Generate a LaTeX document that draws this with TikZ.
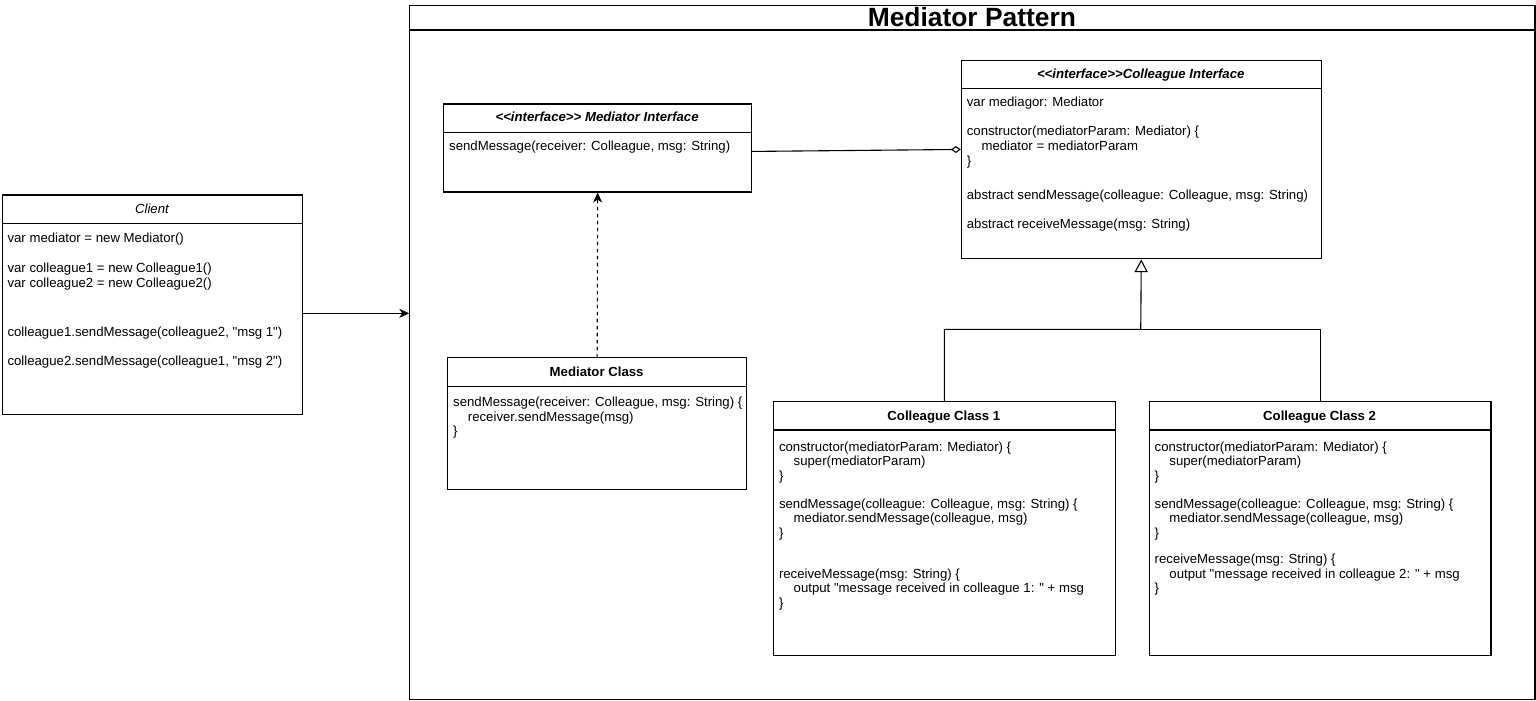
\documentclass[tikz,border=0pt]{standalone}
\usepackage{fontspec}
\newfontfamily\ufont{Liberation Sans}
\usetikzlibrary{arrows.meta}
\newcounter{tln}
\newcommand\lntxt[3]{\stepcounter{tln}\node[txt,anchor=base west] (t\arabic{tln}) at (#1,#2) {#3};}
\newcommand\hdtxt[3]{\stepcounter{tln}\node[txt,anchor=base] (t\arabic{tln}) at (#1,#2) {#3};}
\begin{document}
\begin{tikzpicture}[x=1pt,y=-1pt,
  every path/.style={line width=1.1pt,draw=black},
  box/.style={draw=black,line width=1.1pt,rectangle,inner sep=0pt,anchor=north west,fill=white},
  txt/.style={inner sep=0pt,outer sep=0pt,font=\ufont\fontsize{13.2}{14.5}\selectfont},
  tip/.style={-{Stealth[length=10pt,width=9pt,inset=3pt]}},
]
\useasboundingbox (0,0) rectangle (1536,700);
\fill[white] (0,0) rectangle (1536,700);

% outer frame
\node[box,minimum width=1126pt,minimum height=695pt] (frame) at (409,4) {};
\draw ([yshift=-25.5pt]frame.north west) -- ([yshift=-25.5pt]frame.north east);
\node[inner sep=0pt,anchor=base,font=\ufont\bfseries\fontsize{26.4}{30}\selectfont] (title) at (972,25.7) {Mediator Pattern};

% boxes
\node[box,minimum width=301pt,minimum height=220pt] (client) at (1,194) {};
\node[box,minimum width=308pt,minimum height=88pt] (mi) at (443,103) {};
\node[box,minimum width=360pt,minimum height=199pt] (ci) at (961,59) {};
\node[box,minimum width=299pt,minimum height=132pt] (mc) at (447,357) {};
\node[box,minimum width=342pt,minimum height=254pt] (cc1) at (773,401) {};
\node[box,minimum width=342pt,minimum height=254pt] (cc2) at (1149,401) {};

\foreach \b in {client,mi,ci,mc,cc1,cc2}{
  \draw ([yshift=-28.8pt]\b.north west) -- ([yshift=-28.8pt]\b.north east);
}

% Client
\hdtxt{151.5}{213}{\itshape Client}
\lntxt{7}{242.5}{var mediator = new Mediator()}
\lntxt{7}{272.5}{var colleague1 = new Colleague1()}
\lntxt{7}{287.5}{var colleague2 = new Colleague2()}
\lntxt{7}{336}{colleague1.sendMessage(colleague2, "msg 1")}
\lntxt{7}{365}{colleague2.sendMessage(colleague1, "msg 2")}

% Mediator Interface
\hdtxt{597}{121.5}{\bfseries\itshape <\kern0pt<interface>\kern0pt> Mediator Interface}
\lntxt{449}{150.5}{sendMessage(receiver: Colleague, msg: String)}

% Colleague Interface
\hdtxt{1141}{78.5}{\bfseries\itshape <\kern0pt<interface>\kern0pt>Colleague Interface}
\lntxt{967}{106.5}{var mediagor: Mediator}
\lntxt{967}{135.5}{constructor(mediatorParam: Mediator) \{}
\lntxt{981.7}{150.5}{mediator = mediatorParam}
\lntxt{967}{165}{\}}
\lntxt{967}{199.5}{abstract sendMessage(colleague: Colleague, msg: String)}
\lntxt{967}{228.5}{abstract receiveMessage(msg: String)}

% Mediator Class
\hdtxt{596.5}{376}{\bfseries Mediator Class}
\lntxt{453}{406}{sendMessage(receiver: Colleague, msg: String) \{}
\lntxt{467.7}{421}{receiver.sendMessage(msg)}
\lntxt{453}{435.5}{\}}

% Colleague Class 1
\hdtxt{944}{420}{\bfseries Colleague Class 1}
\lntxt{779}{451}{constructor(mediatorParam: Mediator) \{}
\lntxt{793.7}{465.5}{super(mediatorParam)}
\lntxt{779}{480}{\}}
\lntxt{779}{508}{sendMessage(colleague: Colleague, msg: String) \{}
\lntxt{793.7}{522.5}{mediator.sendMessage(colleague, msg)}
\lntxt{779}{537}{\}}
\lntxt{779}{578}{receiveMessage(msg: String) \{}
\lntxt{793.7}{592.5}{output "message received in colleague 1: " + msg}
\lntxt{779}{607}{\}}

% Colleague Class 2
\hdtxt{1320}{420}{\bfseries Colleague Class 2}
\lntxt{1155}{451}{constructor(mediatorParam: Mediator) \{}
\lntxt{1169.7}{465.5}{super(mediatorParam)}
\lntxt{1155}{480}{\}}
\lntxt{1155}{508}{sendMessage(colleague: Colleague, msg: String) \{}
\lntxt{1169.7}{522.5}{mediator.sendMessage(colleague, msg)}
\lntxt{1155}{537}{\}}
\lntxt{1155}{563.5}{receiveMessage(msg: String) \{}
\lntxt{1169.7}{578}{output "message received in colleague 2: " + msg}
\lntxt{1155}{592.5}{\}}

% connectors
\coordinate (cs) at (302,313);
\draw[tip] (cs) -- (cs -| frame.west);

\coordinate (ms) at (751,151);
\coordinate (me) at (961,149);
\draw[-{Diamond[open,length=10pt,width=7pt]}] (ms) -- (me);

\draw[tip,dash pattern=on 3.5pt off 3.5pt] (mc.north) -- (mi.south);

\coordinate (j) at (1141,329);
\draw[-{Triangle[open,length=12.7pt,width=13.3pt]}] (cc1.north) |- (j) -- (ci.south);
\draw (cc2.north) |- (j);
\end{tikzpicture}
\end{document}
